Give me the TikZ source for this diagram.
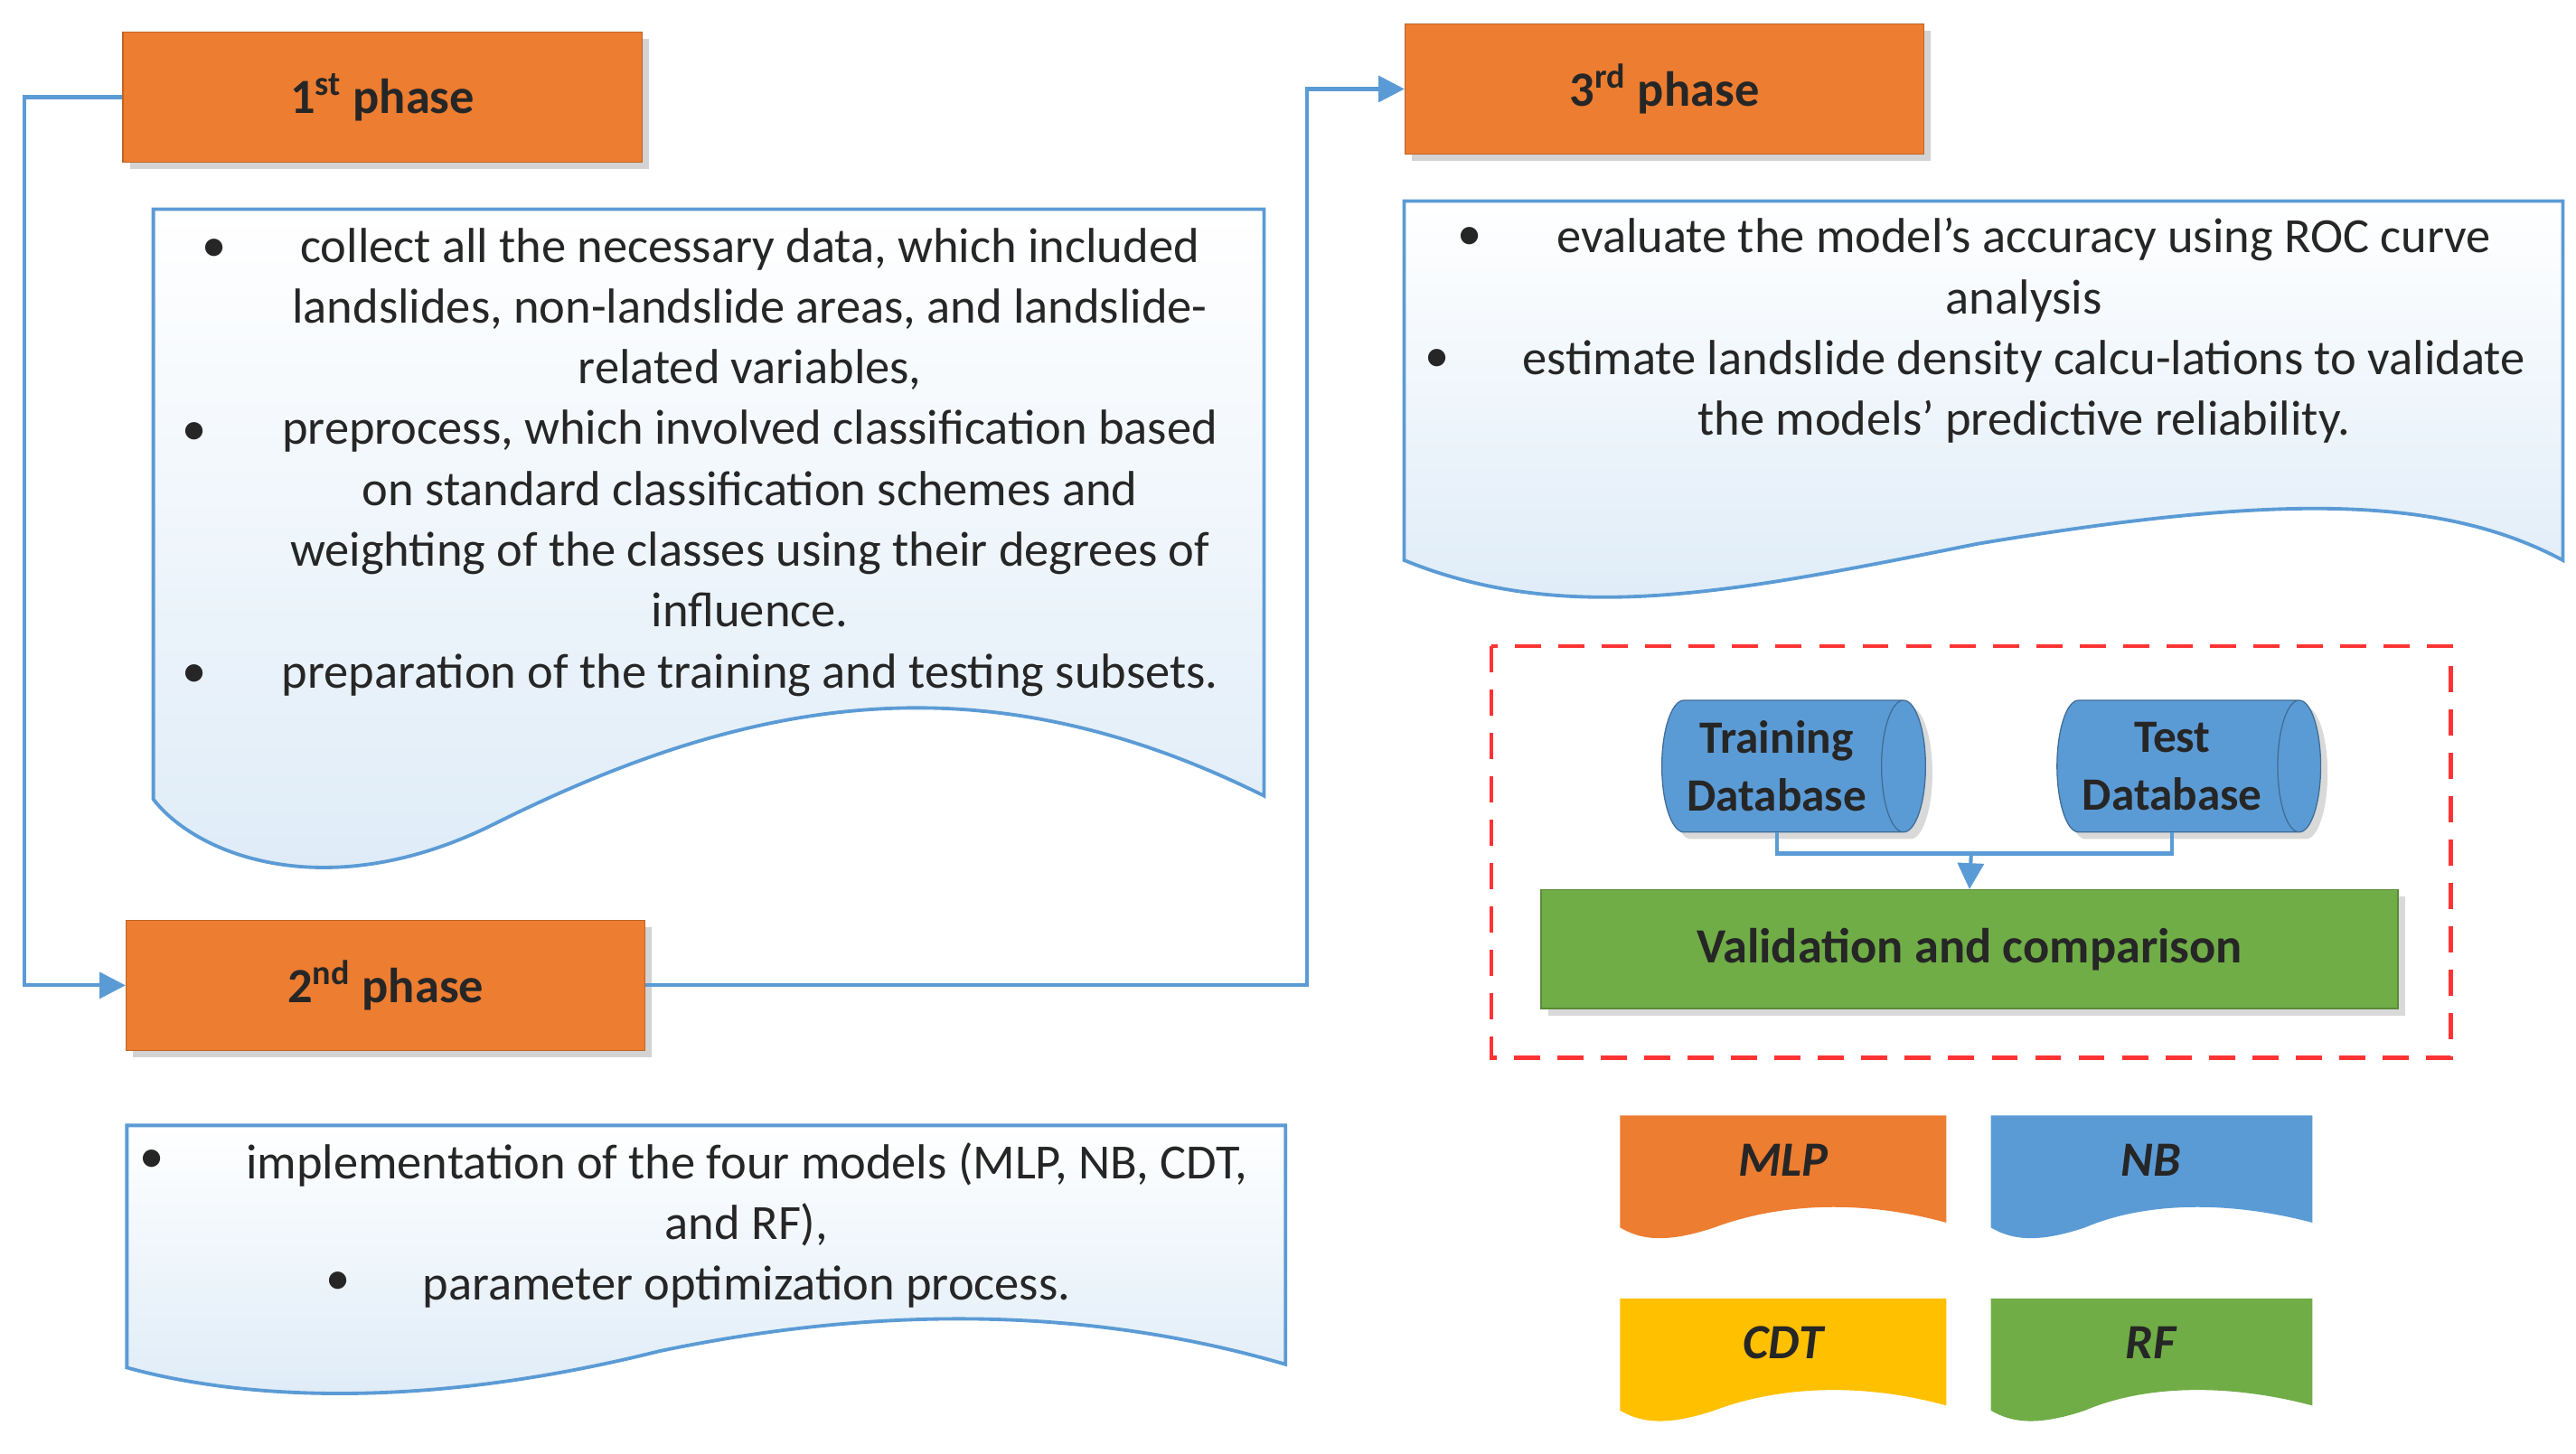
\documentclass[tikz,border=0pt]{standalone}
\usepackage{fontspec}
\setmainfont{Carlito}
\usetikzlibrary{shapes.geometric,shadows,arrows.meta}
\definecolor{org}{HTML}{ED7D31}
\definecolor{blu}{HTML}{5B9BD5}
\definecolor{lb}{HTML}{DDEBF7}
\definecolor{gr}{HTML}{70AD47}
\definecolor{yl}{HTML}{FFC000}
\begin{document}
\begin{tikzpicture}[x=0.02cm,y=-0.02cm,
 phase/.style={fill=org,draw=org!80!black,line width=0.4pt,drop shadow={opacity=0.35},minimum width=6.3cm,minimum height=1.58cm,font=\fontsize{17}{20}\selectfont\bfseries,text=black!85},
 doc/.style={draw=blu,line width=1.2pt,top color=white,bottom color=lb},
 txt/.style={font=\fontsize{17}{21}\selectfont,align=center,text=black!85,anchor=north,inner sep=0pt},
 bul/.style={font=\fontsize{17}{21}\selectfont,text=black!85,inner sep=0pt},
 conn/.style={draw=blu,line width=1.3pt},
 arr/.style={conn,-{Triangle[length=9pt,width=9pt]}},
 cyl/.style={cylinder,shape aspect=0.4,fill=blu,draw=blu!70!black,minimum width=1.6cm,minimum height=3.2cm,font=\fontsize{16}{20}\selectfont\bfseries,align=center,text=black!85,drop shadow={opacity=0.3}},
 small/.style={line width=0.4pt,font=\fontsize{17}{20}\selectfont\bfseries\itshape,text=black!85}]
\useasboundingbox (0,0) rectangle (1563,882);
% phase boxes
\node[phase] (p1) at (232,59) {1\textsuperscript{st} phase};
\node[phase] (p2) at (234,598) {2\textsuperscript{nd} phase};
\node[phase] (p3) at (1010,54) {3\textsuperscript{rd} phase};
% doc 1
\path[doc] (93,127) -- (767,127) -- (767,483) .. controls (600,400) and (460,420) .. (300,500) .. controls (200,550) and (120,520) .. (93,485) -- cycle;
\node[txt] (t1) at (455,138) {collect all the necessary data, which included\\ landslides, non-landslide areas, and landslide-\\ related variables,\\ preprocess, which involved classification based\\ on standard classification schemes and\\ weighting of the classes using their degrees of\\ influence.\\ preparation of the training and testing subsets.};
\node[bul] (b11) at (130,152) {\textbullet};
\node[bul] (b12) at (118,263) {\textbullet};
\node[bul] (b13) at (118,410) {\textbullet};
% doc 2
\path[doc] (77,683) -- (780,683) -- (780,828) .. controls (650,790) and (520,795) .. (400,820) .. controls (260,855) and (150,850) .. (77,830) -- cycle;
\node[txt] (t2) at (453,693) {implementation of the four models (MLP, NB, CDT,\\ and RF),\\ parameter optimization process.};
\node[bul] (b21) at (92,705) {\textbullet};
\node[bul] (b22) at (205,779) {\textbullet};
% doc 3
\path[doc] (852,122) -- (1555,122) -- (1555,340) .. controls (1480,300) and (1380,300) .. (1200,330) .. controls (1050,360) and (950,380) .. (852,340) -- cycle;
\node[txt] (t3) at (1228,132) {evaluate the model’s accuracy using ROC curve\\ analysis\\ estimate landslide density calcu-lations to validate\\ the models’ predictive reliability.};
\node[bul] (b31) at (892,145) {\textbullet};
\node[bul] (b32) at (872,219) {\textbullet};
% dashed box
\draw[red!80,line width=1.4pt,dash pattern=on 9pt off 6pt] (905,392) rectangle (1487,642);
\node[cyl] (tr) at (1078,465) {Training\\Database};
\node[cyl] (te) at (1318,465) {Test\\Database};
\node[fill=gr,draw=gr!80!black,minimum width=10.4cm,minimum height=1.44cm,font=\fontsize{17}{20}\selectfont\bfseries,text=black!85,drop shadow={opacity=0.3}] (val) at (1195,576) {Validation and comparison};
\coordinate (j) at (1196,518);
\draw[conn] (tr.south) |- (j) -| (te.south);
\draw[arr] (j) -- (val.north);
% small docs
\path[small,fill=org] (983,677) -- (1181,677) -- (1181,742) .. controls (1130,728) and (1080,730) .. (1040,745) .. controls (1010,755) and (995,752) .. (983,745) -- cycle;
\node[small] (mlp) at (1082,704) {MLP};
\path[small,fill=blu] (1208,677) -- (1403,677) -- (1403,742) .. controls (1350,728) and (1300,730) .. (1265,745) .. controls (1235,755) and (1220,752) .. (1208,745) -- cycle;
\node[small] (nb) at (1305,704) {NB};
\path[small,fill=yl] (983,788) -- (1181,788) -- (1181,853) .. controls (1130,839) and (1080,841) .. (1040,856) .. controls (1010,866) and (995,863) .. (983,856) -- cycle;
\node[small] (cdt) at (1082,815) {CDT};
\path[small,fill=gr] (1208,788) -- (1403,788) -- (1403,853) .. controls (1350,839) and (1300,841) .. (1265,856) .. controls (1235,866) and (1220,863) .. (1208,856) -- cycle;
\node[small] (rf) at (1305,815) {RF};
% connectors
\draw[arr] (p1.west) -- (15,59) |- (p2.west);
\draw[arr] (p2.east) -- (793,598) |- (p3.west);
\end{tikzpicture}
\end{document}
